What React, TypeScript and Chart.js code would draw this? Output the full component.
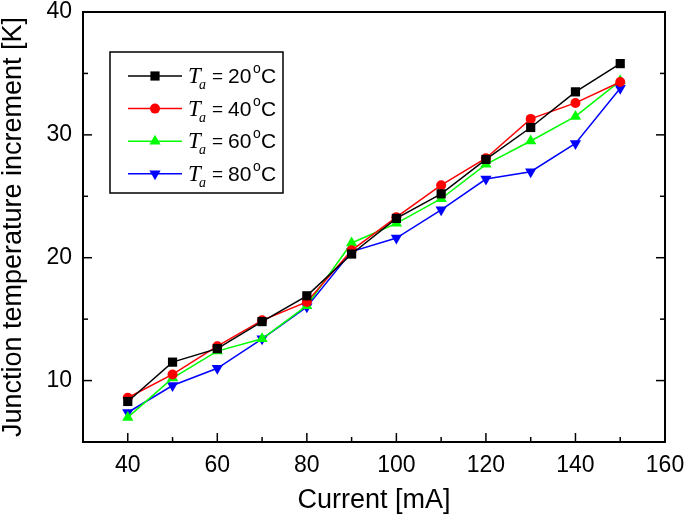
import { useEffect, useRef } from 'react'
import { Chart, registerables } from 'chart.js'
Chart.register(...registerables)

// Current [mA] and junction temperature increment [K] for each ambient temperature
const currents = [40, 50, 60, 70, 80, 90, 100, 110, 120, 130, 140, 150]
const temps20 = [8.3, 11.5, 12.6, 14.8, 16.9, 20.3, 23.2, 25.2, 28.0, 30.6, 33.5, 35.8]
const temps40 = [8.6, 10.5, 12.8, 14.9, 16.4, 20.6, 23.3, 25.9, 28.1, 31.3, 32.6, 34.3]
const temps60 = [7.0, 10.2, 12.4, 13.4, 16.1, 21.2, 22.8, 24.8, 27.6, 29.5, 31.5, 34.4]
const temps80 = [7.4, 9.6, 11.0, 13.4, 16.0, 20.5, 21.6, 23.9, 26.4, 27.0, 29.3, 33.8]
const ambients = [20, 40, 60, 80]

const xTicks = [40, 60, 80, 100, 120, 140, 160]
const xMinorTicks = [50, 70, 90, 110, 130, 150]
const yTicks = [10, 20, 30, 40]
const yMinorTicks = [15, 25, 35]

const SANS = '"Liberation Sans", Arial, Helvetica, sans-serif'
const SERIF = '"Liberation Serif", "Times New Roman", serif'

const styles = [
    { color: '#000000', shape: 'rect', rotation: 0, radius: 6.5 },
    { color: '#ff0000', shape: 'circle', rotation: 0, radius: 5 },
    { color: '#00ff00', shape: 'triangle', rotation: 0, radius: 6.5 },
    { color: '#0000ff', shape: 'triangle', rotation: 180, radius: 6.5 },
]
const seriesValues = [temps20, temps40, temps60, temps80]

function marker(ctx: CanvasRenderingContext2D, shape: string, rotation: number, r: number, x: number, y: number, color: string) {
    ctx.save()
    ctx.fillStyle = color
    ctx.beginPath()
    if (shape === 'rect') {
        const h = r * Math.SQRT1_2
        ctx.rect(x - h, y - h, 2 * h, 2 * h)
    } else if (shape === 'circle') {
        ctx.arc(x, y, r, 0, Math.PI * 2)
    } else {
        const s = rotation === 180 ? -1 : 1
        ctx.moveTo(x, y - s * r)
        ctx.lineTo(x + r * 0.866, y + s * r / 2)
        ctx.lineTo(x - r * 0.866, y + s * r / 2)
        ctx.closePath()
    }
    ctx.fill()
    ctx.restore()
}

const framePlugin = {
    id: 'frame',
    afterDraw(chart: any) {
        const { ctx, chartArea: a, scales: { x, y } } = chart
        ctx.save()
        ctx.strokeStyle = '#000'
        ctx.lineWidth = 2
        ctx.strokeRect(a.left, a.top, a.right - a.left, a.bottom - a.top)
        ctx.lineWidth = 1.5
        const seg = (x1: number, y1: number, x2: number, y2: number) => {
            ctx.beginPath(); ctx.moveTo(x1, y1); ctx.lineTo(x2, y2); ctx.stroke()
        }
        xTicks.forEach(v => { const p = x.getPixelForValue(v); seg(p, a.bottom, p, a.bottom - 9) })
        xMinorTicks.forEach(v => { const p = x.getPixelForValue(v); seg(p, a.bottom, p, a.bottom - 5) })
        yTicks.forEach(v => {
            const p = y.getPixelForValue(v)
            seg(a.left, p, a.left + 9, p); seg(a.right, p, a.right - 9, p)
        })
        yMinorTicks.forEach(v => {
            const p = y.getPixelForValue(v)
            seg(a.left, p, a.left + 5, p); seg(a.right, p, a.right - 5, p)
        })

        // legend box
        const bx = a.left + 27, by = a.top + 40, bw = 173, bh = 141
        ctx.lineWidth = 1.5
        ctx.strokeRect(bx, by, bw, bh)
        ambients.forEach((t, i) => {
            const st = styles[i]
            const ry = by + 24 + i * 32.6
            ctx.strokeStyle = st.color
            ctx.lineWidth = 1.5
            seg(bx + 18, ry, bx + 72, ry)
            marker(ctx, st.shape, st.rotation, st.radius, bx + 45, ry, st.color)
            ctx.fillStyle = '#000'
            ctx.textBaseline = 'alphabetic'
            ctx.textAlign = 'left'
            const base = ry + 7
            ctx.font = `italic 23px ${SERIF}`
            ctx.fillText('T', bx + 78, base)
            ctx.font = `italic 14px ${SERIF}`
            ctx.fillText('a', bx + 89, base + 6)
            ctx.font = `19px ${SANS}`
            ctx.fillText('=', bx + 102, base - 1)
            ctx.font = `21px ${SANS}`
            ctx.fillText(String(t), bx + 118, base)
            ctx.font = `14px ${SANS}`
            ctx.fillText('o', bx + 143, base - 10)
            ctx.font = `21px ${SANS}`
            ctx.fillText('C', bx + 151, base)
        })
        ctx.restore()
    },
}

export default function App() {
    const canvasRef = useRef<HTMLCanvasElement>(null)
    const chartRef = useRef<Chart | null>(null)

    useEffect(() => {
        document.body.style.margin = '0'
        if (!canvasRef.current) return
        const ctx = canvasRef.current.getContext('2d')!
        chartRef.current?.destroy()
        chartRef.current = new Chart(ctx, {
            type: 'line',
            data: {
                datasets: ambients.map((t, i) => ({
                    label: `Ta = ${t} °C`,
                    data: currents.map((c, j) => ({ x: c, y: seriesValues[i][j] })),
                    borderColor: styles[i].color,
                    backgroundColor: styles[i].color,
                    pointBackgroundColor: styles[i].color,
                    pointBorderColor: styles[i].color,
                    pointStyle: styles[i].shape as any,
                    pointRotation: styles[i].rotation,
                    pointRadius: styles[i].radius,
                    pointBorderWidth: 0,
                    borderWidth: 1.5,
                    tension: 0,
                    fill: false,
                })),
            },
            plugins: [framePlugin],
            options: {
                animation: false,
                responsive: true,
                maintainAspectRatio: false,
                layout: { padding: { top: 12, right: 20, bottom: 0, left: 0 } },
                plugins: { legend: { display: false }, tooltip: { enabled: false } },
                scales: {
                    x: {
                        type: 'linear',
                        min: 30, max: 160,
                        afterBuildTicks: (s: any) => { s.ticks = xTicks.map(v => ({ value: v })) },
                        afterFit: (s: any) => { s.height = 74; s.paddingLeft = 0; s.paddingRight = 0 },
                        ticks: { color: '#000', font: { family: SANS, size: 23, lineHeight: 1 }, padding: 12, maxRotation: 0, autoSkip: false },
                        grid: { display: false, drawTicks: false },
                        border: { display: false },
                        title: { display: true, text: 'Current [mA]', color: '#000', font: { family: SANS, size: 27, lineHeight: 1 }, padding: { top: 0, bottom: 2 } },
                    },
                    y: {
                        type: 'linear',
                        min: 5, max: 40,
                        afterBuildTicks: (s: any) => { s.ticks = yTicks.map(v => ({ value: v })) },
                        afterFit: (s: any) => { s.width = 83; s.paddingTop = 0; s.paddingBottom = 0 },
                        ticks: { color: '#000', font: { family: SANS, size: 23, lineHeight: 1 }, padding: 11, autoSkip: false },
                        grid: { display: false, drawTicks: false },
                        border: { display: false },
                        title: { display: true, text: 'Junction temperature increment [K]', color: '#000', font: { family: SANS, size: 27, lineHeight: 1 }, padding: { top: 0, bottom: 0 } },
                    },
                },
            },
        })
        return () => chartRef.current?.destroy()
    }, [])

    return (
        <div style={{ position: 'relative', width: 685, height: 516, background: '#fff' }}>
            <canvas ref={canvasRef} />
        </div>
    )
}
